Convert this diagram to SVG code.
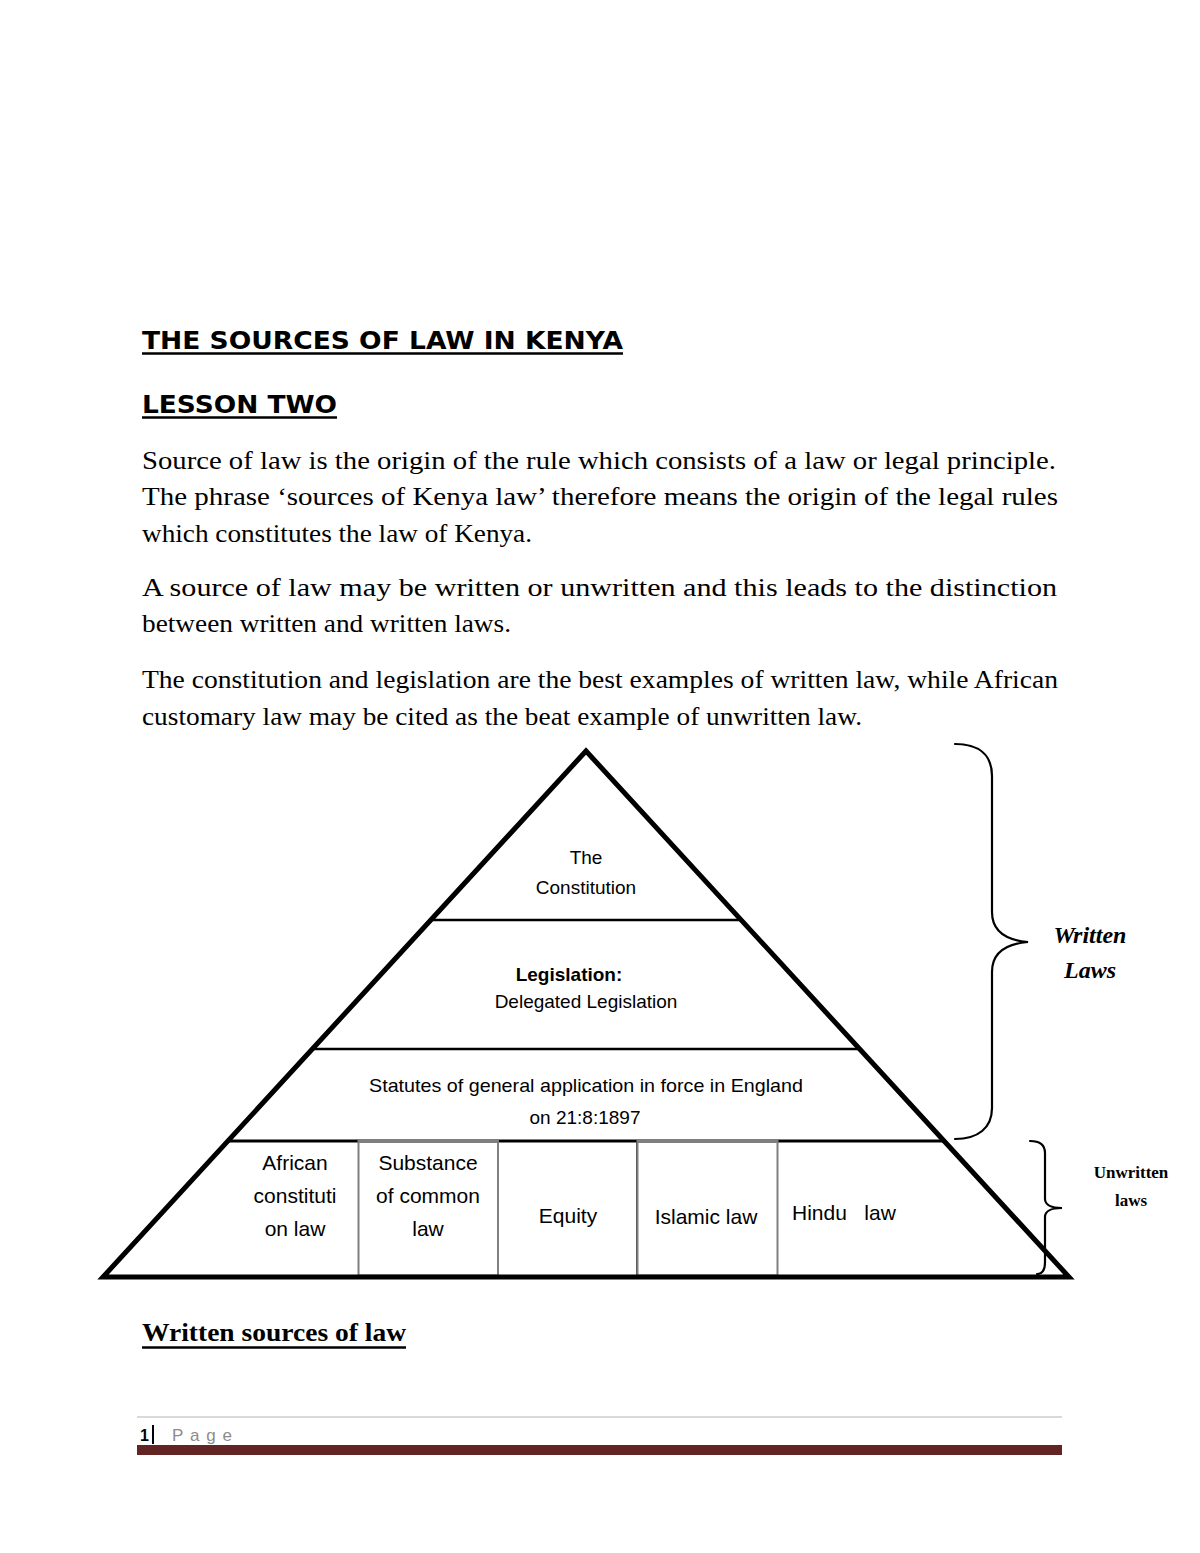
<svg xmlns="http://www.w3.org/2000/svg" width="1200" height="1553" viewBox="0 0 1200 1553">
<style>
.ttl{font-family:"DejaVu Sans",sans-serif;font-weight:bold;font-size:25px;fill:#000}
.body{font-family:"Liberation Serif",serif;font-size:25px;fill:#000}
.cal{font-family:"Liberation Sans",sans-serif;font-size:19px;fill:#000;text-anchor:middle}
.cell{font-family:"Liberation Sans",sans-serif;font-size:21px;fill:#000;text-anchor:middle}
.ul{stroke:#000;stroke-width:2.5}
.brace{fill:none;stroke:#000;stroke-width:2.2;stroke-linecap:round}
.gbox{fill:none;stroke:#7f7f7f;stroke-width:2}
</style>
<rect width="1200" height="1553" fill="#fff"/>

<g id="heading">
<text class="ttl" x="142" y="349" textLength="481" lengthAdjust="spacingAndGlyphs">THE SOURCES OF LAW IN KENYA</text>
<line class="ul" x1="142" y1="353.5" x2="623" y2="353.5"/>
<text class="ttl" x="142" y="413" textLength="195" lengthAdjust="spacingAndGlyphs">LESSON TWO</text>
<line class="ul" x1="142" y1="417.5" x2="337" y2="417.5"/>
</g>

<g id="paragraphs">
<text class="body" x="142" y="469" textLength="914" lengthAdjust="spacingAndGlyphs">Source of law is the origin of the rule which consists of a law or legal principle.</text>
<text class="body" x="142" y="505" textLength="916" lengthAdjust="spacingAndGlyphs">The phrase ‘sources of Kenya law’ therefore means the origin of the legal rules</text>
<text class="body" x="142" y="542" textLength="390" lengthAdjust="spacingAndGlyphs">which constitutes the law of Kenya.</text>
<text class="body" x="142" y="596" textLength="915" lengthAdjust="spacingAndGlyphs">A source of law may be written or unwritten and this leads to the distinction</text>
<text class="body" x="142" y="632" textLength="369" lengthAdjust="spacingAndGlyphs">between written and written laws.</text>
<text class="body" x="142" y="688" textLength="916" lengthAdjust="spacingAndGlyphs">The constitution and legislation are the best examples of written law, while African</text>
<text class="body" x="142" y="725" textLength="720" lengthAdjust="spacingAndGlyphs">customary law may be cited as the beat example of unwritten law.</text>
</g>

<g id="pyramid">
<line x1="431" y1="920" x2="741" y2="920" stroke="#000" stroke-width="2.5"/>
<line x1="312" y1="1049" x2="860" y2="1049" stroke="#000" stroke-width="2.5"/>
<line x1="229" y1="1141" x2="943" y2="1141" stroke="#000" stroke-width="3"/>
<line x1="498" y1="1141" x2="498" y2="1276" stroke="#000" stroke-width="1.5"/>
<line x1="637" y1="1141" x2="637" y2="1276" stroke="#000" stroke-width="1.5"/>
<rect class="gbox" x="358.5" y="1141" width="139.5" height="134.5"/>
<rect class="gbox" x="637.5" y="1141" width="140" height="134.5"/>
<polygon points="586,751 1069,1277 103,1277" fill="none" stroke="#000" stroke-width="5" stroke-linejoin="miter" stroke-miterlimit="10"/>
</g>

<g id="node-constitution">
<text class="cal" x="586" y="864">The</text>
<text class="cal" x="586" y="894">Constitution</text>
</g>

<g id="node-legislation">
<text class="cal" x="569" y="981" font-weight="bold">Legislation:</text>
<text class="cal" x="586" y="1008">Delegated Legislation</text>
</g>

<g id="node-statutes">
<text class="cal" x="586" y="1092" textLength="434" lengthAdjust="spacingAndGlyphs">Statutes of general application in force in England</text>
<text class="cal" x="585" y="1124">on 21:8:1897</text>
</g>

<g id="node-african">
<text class="cell" x="295" y="1170">African</text>
<text class="cell" x="295" y="1203">constituti</text>
<text class="cell" x="295" y="1236">on law</text>
</g>

<g id="node-substance">
<text class="cell" x="428" y="1170">Substance</text>
<text class="cell" x="428" y="1203">of common</text>
<text class="cell" x="428" y="1236">law</text>
</g>

<g id="node-equity">
<text class="cell" x="568" y="1223">Equity</text>
</g>

<g id="node-islamic">
<text class="cell" x="706" y="1224">Islamic law</text>
</g>

<g id="node-hindu">
<text class="cell" x="792" y="1220" style="text-anchor:start;white-space:pre" xml:space="preserve">Hindu   law</text>
</g>

<g id="connectors">
<path class="brace" d="M955,744 C978,744 992,754 992,776 L992,912 C992,930 1005,940 1028,942 C1005,944 992,954 992,972 L992,1108 C992,1128 978,1139 955,1139"/>
<path class="brace" d="M1030,1141 C1040,1141 1045,1145 1045,1153 L1045,1199 C1045,1205 1052,1208 1062,1208 C1052,1208 1045,1211 1045,1217 L1045,1262 C1045,1270 1042,1274 1037,1274"/>
</g>

<g id="label-written">
<text x="1090" y="943" font-family="Liberation Serif, serif" font-size="24" font-weight="bold" font-style="italic" text-anchor="middle">Written</text>
<text x="1090" y="978" font-family="Liberation Serif, serif" font-size="24" font-weight="bold" font-style="italic" text-anchor="middle">Laws</text>
</g>

<g id="label-unwritten">
<text x="1131" y="1178" font-family="Liberation Serif, serif" font-size="17" font-weight="bold" text-anchor="middle">Unwritten</text>
<text x="1131" y="1206" font-family="Liberation Serif, serif" font-size="17" font-weight="bold" text-anchor="middle">laws</text>
</g>

<g id="subheading">
<text x="142" y="1341" font-family="Liberation Serif, serif" font-size="25" font-weight="bold" textLength="264" lengthAdjust="spacingAndGlyphs">Written sources of law</text>
<line x1="142" y1="1347.5" x2="406" y2="1347.5" stroke="#000" stroke-width="2.5"/>
</g>

<g id="footer">
<line x1="137" y1="1417" x2="1062" y2="1417" stroke="#d9d9d9" stroke-width="2"/>
<text x="140" y="1441" font-family="Liberation Sans, sans-serif" font-size="16" font-weight="bold">1</text>
<line x1="153" y1="1425" x2="153" y2="1444" stroke="#000" stroke-width="2"/>
<text x="172" y="1441" font-family="Liberation Sans, sans-serif" font-size="17" fill="#8c8c8c" textLength="60" lengthAdjust="spacing" xml:space="preserve">P a g e</text>
<rect x="137" y="1445" width="925" height="10" fill="#632523"/>
</g>
</svg>
